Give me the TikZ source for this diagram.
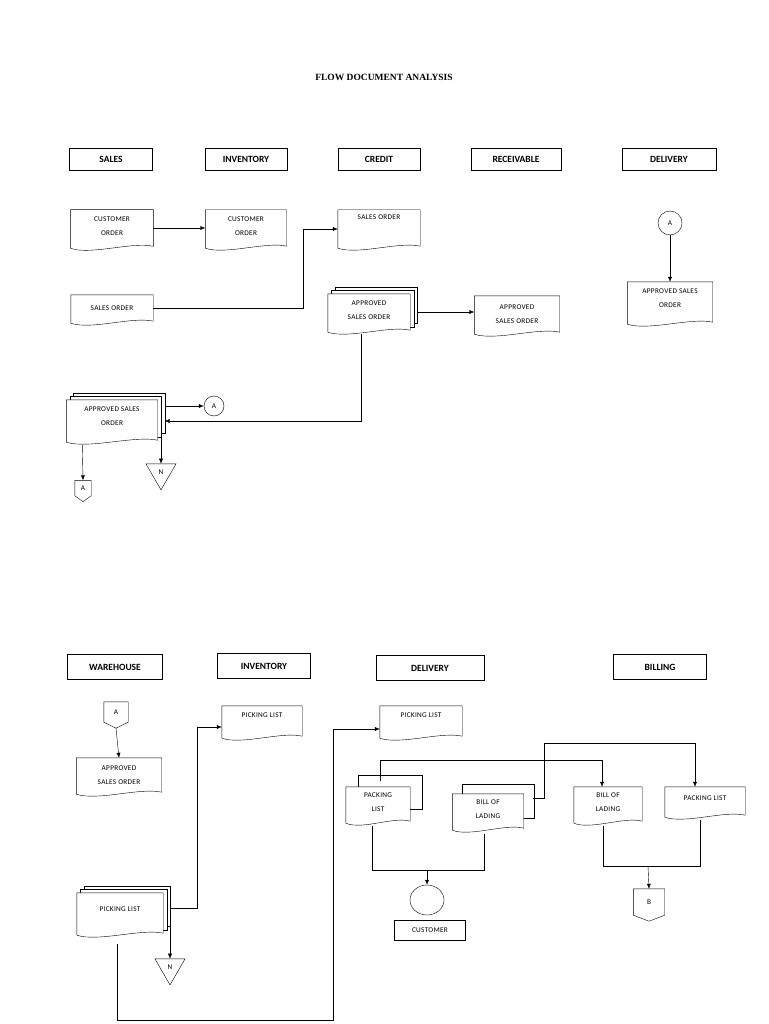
\documentclass[tikz,border=0pt]{standalone}
\usepackage{fontspec}
\setmainfont{Carlito}
\newfontfamily\titlef{Liberation Serif}
\newfontfamily\docf{Carlito}[LetterSpace=4]
\usetikzlibrary{calc,arrows.meta,shapes.geometric}
\pgfdeclarelayer{lbb}\pgfdeclarelayer{lba}\pgfdeclarelayer{lf}
\pgfsetlayers{lbb,lba,lf,main}
\newcommand\mkdoc[1]{\begin{pgfonlayer}{lf}\draw[fill=white] (#1.north west) -- (#1.north east) -- (#1.south east) .. controls ($(#1.south)!0.5!(#1.south east)+(0,-5)$) and ($(#1.south)!0.5!(#1.south west)+(0,9)$) .. ($(#1.south west)+(0,2)$) -- cycle;\end{pgfonlayer}}
\newcommand\mkback[3]{\begin{pgfonlayer}{#3}\draw[fill=white] ($(#1.north west)+(#2,-#2)$) rectangle ($(#1.south east)+(#2,-#2)$);\end{pgfonlayer}}
\newcommand\mkstack[1]{\mkback{#1}{7}{lbb}\mkback{#1}{3.5}{lba}\mkdoc{#1}}
\newcommand\mkoff[1]{\draw (#1.north west) -- (#1.north east) -- (#1.south east) -- ($(#1.south)+(0,6)$) -- (#1.south west) -- cycle;}
\tikzset{
 doc/.style={inner sep=0,minimum width=#1,align=center,font=\docf\fontsize{7.3}{14}\selectfont},
 hd/.style={draw,inner sep=0,minimum height=22,font=\bfseries\fontsize{9.5}{10}\selectfont},
 ar/.style={-{Latex[length=5,width=4]}},
 circ/.style={draw,circle,inner sep=0,minimum size=#1,font=\docf\fontsize{7.3}{8}\selectfont},
 off/.style={inner sep=0,minimum width=#1,font=\docf\fontsize{7.3}{8}\selectfont},
 tri/.style={draw,isosceles triangle,shape border rotate=-90,isosceles triangle apex angle=60,inner sep=0,minimum height=26,minimum width=20,font=\docf\fontsize{7.3}{8}\selectfont}
}
\begin{document}
\begin{tikzpicture}[x=1pt,y=-1pt,line width=0.7pt]
\useasboundingbox (0,0) rectangle (768,1024);
\node[font=\titlef\bfseries\fontsize{9.5}{10}\selectfont] (title) at (384,77) {FLOW DOCUMENT ANALYSIS};
% headers top
\node[hd,minimum width=83] (hs) at (111,159) {SALES};
\node[hd,minimum width=82] (hi) at (246,159) {INVENTORY};
\node[hd,minimum width=82] (hc) at (379,159) {CREDIT};
\node[hd,minimum width=90] (hr) at (516,159) {RECEIVABLE};
\node[hd,minimum width=94] (hd) at (669,159) {DELIVERY};
% docs top
\node[doc=82,minimum height=36,text depth=4] (co1) at (112,228) {CUSTOMER\\ORDER}; \mkdoc{co1}
\node[doc=81,minimum height=36,text depth=4] (co2) at (246,228) {CUSTOMER\\ORDER}; \mkdoc{co2}
\node[doc=82,minimum height=36,text depth=22] (so2) at (379,228) {SALES ORDER}; \mkdoc{so2}
\node[doc=82,minimum height=26] (so1) at (112,308) {SALES ORDER}; \mkdoc{so1}
\node[doc=82,minimum height=36,text depth=4] (aso1) at (369,312) {APPROVED\\SALES ORDER}; \mkstack{aso1}
\node[doc=85,minimum height=36] (aso2) at (517,314) {APPROVED\\SALES ORDER}; \mkdoc{aso2}
\node[circ=24] (ca1) at (670,223) {A};
\node[doc=85,minimum height=40,text depth=8] (aso3) at (670,302) {APPROVED SALES\\ORDER}; \mkdoc{aso3}
\node[doc=91,minimum height=40,text depth=8] (aso4) at (112,420) {APPROVED SALES\\ORDER}; \mkstack{aso4}
\node[circ=20] (ca2) at (214,406) {A};
\node[off=16,minimum height=15] (pa1) at (83,488) {A}; \mkoff{pa1}
\node[tri] (tn1) at (161,472) {N};
% connectors top
\draw[ar] (co1.east) -- (co1.east -| co2.west);
\coordinate (b1) at (303,308); \coordinate (b2) at (303,229);
\draw[ar] (so1.east) -- (b1) -- (b2) -- (b2 -| so2.west);
\draw[ar] ($(aso1.east)+(7,0)$) -- (aso1.east -| aso2.west);
\coordinate (b3) at (361,421);
\draw[ar] ($(aso1.south)+(-8,4)$) -- (b3) -- ($(b3 -| aso4.east)+(7,0)$);
\draw[ar] ($(aso4.east)+(7,-14)$) -- (ca2.west);
\draw[ar] ($(aso4.south west)+(16,5)$) -- (pa1.north);
\draw[ar] (tn1.north |- aso4.south east) ++(0,-4) -- (tn1.north);
\draw[ar] (ca1.south) -- (aso3.north);
% headers bottom
\node[hd,minimum width=95,minimum height=25] (hw) at (115,667) {WAREHOUSE};
\node[hd,minimum width=93,minimum height=25] (hi2) at (264,666) {INVENTORY};
\node[hd,minimum width=108,minimum height=25] (hd2) at (430,668) {DELIVERY};
\node[hd,minimum width=93,minimum height=25] (hb) at (660,667) {BILLING};
% docs bottom
\node[off=24,minimum height=20] (pa2) at (116,712) {A}; \mkoff{pa2}
\node[doc=85,minimum height=34] (aso5) at (119,775) {APPROVED\\SALES ORDER}; \mkdoc{aso5}
\node[doc=80,minimum height=30,text depth=12] (pl1) at (262,721) {PICKING LIST}; \mkdoc{pl1}
\node[doc=82,minimum height=30,text depth=12] (pl2) at (421,721) {PICKING LIST}; \mkdoc{pl2}
\node[doc=86,minimum height=40,text depth=8] (pl3) at (120,913) {PICKING LIST}; \mkstack{pl3}
\node[tri] (tn2) at (170,967) {N};
\node[doc=64,minimum height=34,text depth=4] (pk1) at (378,804) {PACKING\\LIST}; \mkback{pk1}{12}{lba}\mkdoc{pk1}
\node[doc=71,minimum height=34,text depth=4] (bl1) at (488,811) {BILL OF\\LADING}; \mkback{bl1}{10}{lba}\mkdoc{bl1}
\node[doc=68,minimum height=34,text depth=4] (bl2) at (608,804) {BILL OF\\LADING}; \mkdoc{bl2}
\node[doc=80,minimum height=28,text depth=6] (pk2) at (705,801) {PACKING LIST}; \mkdoc{pk2}
\node[draw,ellipse,minimum width=34,minimum height=30,inner sep=0] (cust) at (427,900) {};
\node[draw,inner sep=0,minimum width=71,minimum height=20,font=\docf\fontsize{7.3}{8}\selectfont] (custb) at (430,930) {CUSTOMER};
\node[off=31,minimum height=26] (pb) at (649,902) {B}; \mkoff{pb}
% connectors bottom
\draw[ar] (pa2.south) ++(0,6) -- (aso5.north);
\coordinate (c1) at (197,908); \coordinate (c2) at (197,727);
\draw[ar] ($(pl3.east)+(7,-5)$) -- (c1) -- (c2) -- (c2 -| pl1.west);
\draw[ar] (tn2.north |- pl3.south east) ++(0,-10) -- (tn2.north);
\coordinate (c3) at (117,1020); \coordinate (c4) at (333,1020); \coordinate (c5) at (333,729);
\draw[ar] (117,944) -- (c3) -- (c4) -- (c5) -- (c5 -| pl2.west);
\coordinate (d1) at (380,760); \coordinate (d2) at (602,760);
\draw[ar] (380,781) -- (d1) -- (d2) -- (bl2.north -| d2);
\coordinate (e1) at (544,798); \coordinate (e2) at (544,743); \coordinate (e3) at (695,743);
\draw[ar] (533,798) -- (e1) -- (e2) -- (e3) -- (e3 |- pk2.north);
\coordinate (f1) at (372,870); \coordinate (f2) at (484,870); \coordinate (f3) at (427,870);
\draw (372,826) -- (f1) -- (f2) -- (484,834);
\draw[ar] (f3) -- (cust.north);
\coordinate (g1) at (603,866); \coordinate (g2) at (700,866); \coordinate (g3) at (648,866);
\draw (603,826) -- (g1) -- (g2) -- (700,820);
\draw[ar] (g3) -- (pb.north);
\end{tikzpicture}
\end{document}
